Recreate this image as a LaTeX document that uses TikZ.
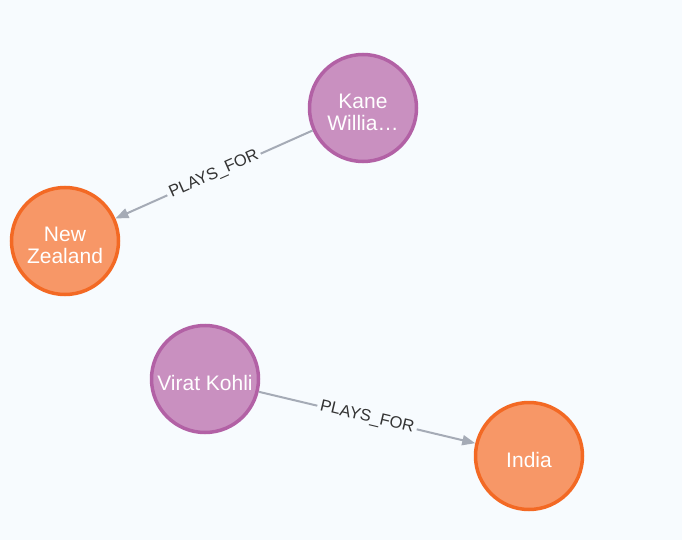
\documentclass[tikz,border=0pt]{standalone}
\usepackage{fontspec}
\setmainfont{Liberation Sans}
\usetikzlibrary{arrows.meta}
\definecolor{bgblue}{HTML}{F7FBFE}
\definecolor{personfill}{HTML}{C990C0}
\definecolor{persondraw}{HTML}{B261A5}
\definecolor{teamfill}{HTML}{F79767}
\definecolor{teamdraw}{HTML}{F36924}
\definecolor{edgegray}{HTML}{A5ABB6}
\definecolor{labelgray}{HTML}{333333}
\newcommand{\nlow}[1]{\raisebox{-4pt}[\height][\depth]{#1}}
\tikzset{
  person/.style={circle, draw=persondraw, fill=personfill, line width=3.5pt, minimum size=107pt, inner sep=0pt, align=center, text=white, font=\fontsize{21}{22}\selectfont},
  team/.style={circle, draw=teamdraw, fill=teamfill, line width=3.5pt, minimum size=107pt, inner sep=0pt, align=center, text=white, font=\fontsize{21}{22}\selectfont},
  rel/.style={draw=edgegray, line width=2pt, -{Triangle[length=13pt,width=10pt]}},
  rellabel/.style={fill=bgblue, sloped, inner sep=3pt, text=labelgray, font=\fontsize{16.5}{18}\selectfont}
}
\begin{document}
\begin{tikzpicture}[x=1pt, y=-1pt]
\useasboundingbox[fill=bgblue] (0,0) rectangle (682,540);
\node[person] (kane) at (363,108) {\nlow{Kane}\\\nlow{Willia…}};
\node[team] (nz) at (65,241) {\nlow{New}\\\nlow{Zealand}};
\node[person] (virat) at (205,379) {\nlow{Virat Kohli}};
\node[team] (india) at (529,456) {\nlow{India}};
\draw[rel] (kane) -- node[rellabel] {PLAYS\_FOR} (nz);
\draw[rel] (virat) -- node[rellabel] {PLAYS\_FOR} (india);
\end{tikzpicture}
\end{document}
